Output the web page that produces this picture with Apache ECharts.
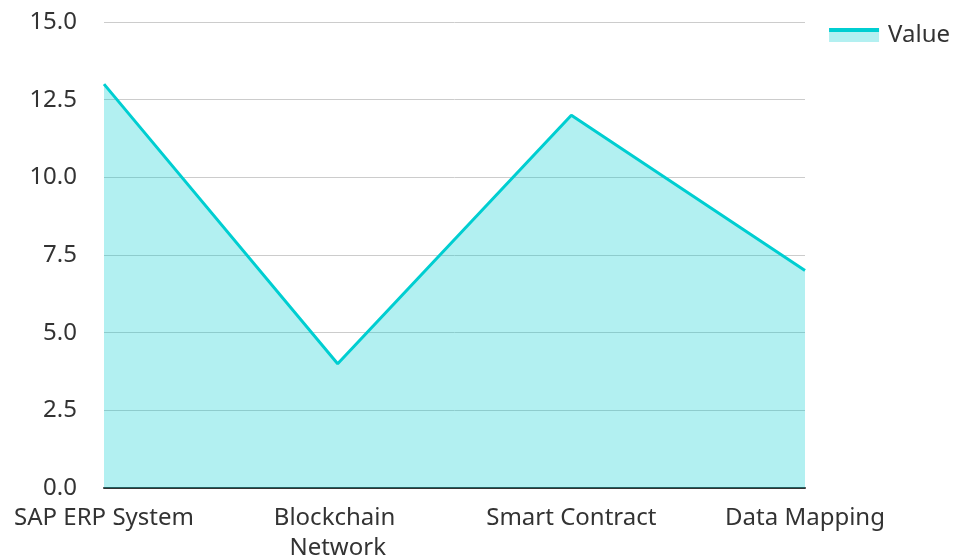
<!DOCTYPE html>
<html>
<head>
<meta charset="utf-8">
<script src="https://cdn.jsdelivr.net/npm/echarts@6/dist/echarts.min.js"></script>
<style>
  html, body { margin: 0; padding: 0; background: #fff; }
  #chart { width: 955px; height: 560px; }
</style>
</head>
<body>
<div id="chart"></div>
<script>
// data
var categories = ['SAP ERP System', 'Blockchain Network', 'Smart Contract', 'Data Mapping'];
var values = [13, 4, 12, 7];
var seriesName = 'Value';

var chart = echarts.init(document.getElementById('chart'));
var font = 'Noto Sans';
var lineColor = '#00CED1';
var fillColor = '#b3f0f1';

var option = {
  textStyle: { fontFamily: font },
  legend: {
    right: 0,
    top: 18,
    itemWidth: 50,
    itemHeight: 14,
    itemGap: 10,
    icon: 'rect',
    itemStyle: {
      // line on top, light area below, like the reference swatch
      color: {
        type: 'linear', x: 0, y: 0, x2: 0, y2: 1,
        colorStops: [
          { offset: 0, color: lineColor },
          { offset: 0.28, color: lineColor },
          { offset: 0.28, color: fillColor },
          { offset: 1, color: fillColor }
        ]
      }
    },
    textStyle: { fontFamily: font, fontSize: 24, color: '#333', padding: [0, 0, 0, 4] },
    data: [seriesName]
  },
  grid: { left: 104, right: 150, top: 22, bottom: 72, containLabel: false, outerBoundsMode: 'none' },
  xAxis: {
    type: 'category',
    boundaryGap: false,
    data: categories,
    axisLine: { lineStyle: { color: '#333', width: 2 } },
    axisTick: { show: false },
    axisLabel: {
      fontFamily: font,
      fontSize: 24,
      lineHeight: 30,
      color: '#333',
      margin: 15,
      width: 195,
      overflow: 'break',
      interval: 0
    }
  },
  yAxis: {
    type: 'value',
    min: 0,
    max: 15,
    interval: 2.5,
    axisLine: { show: false },
    axisTick: { show: false },
    splitLine: { lineStyle: { color: '#ccc', width: 1 } },
    axisLabel: {
      fontFamily: font,
      fontSize: 24,
      color: '#333',
      margin: 27,
      formatter: function (v) { return v.toFixed(1); }
    }
  },
  series: [{
    name: seriesName,
    type: 'line',
    data: values,
    symbol: 'none',
    lineStyle: { color: lineColor, width: 3 },
    itemStyle: { color: lineColor },
    areaStyle: { color: lineColor, opacity: 0.3 }
  }]
};

chart.setOption(option);
</script>
</body>
</html>
